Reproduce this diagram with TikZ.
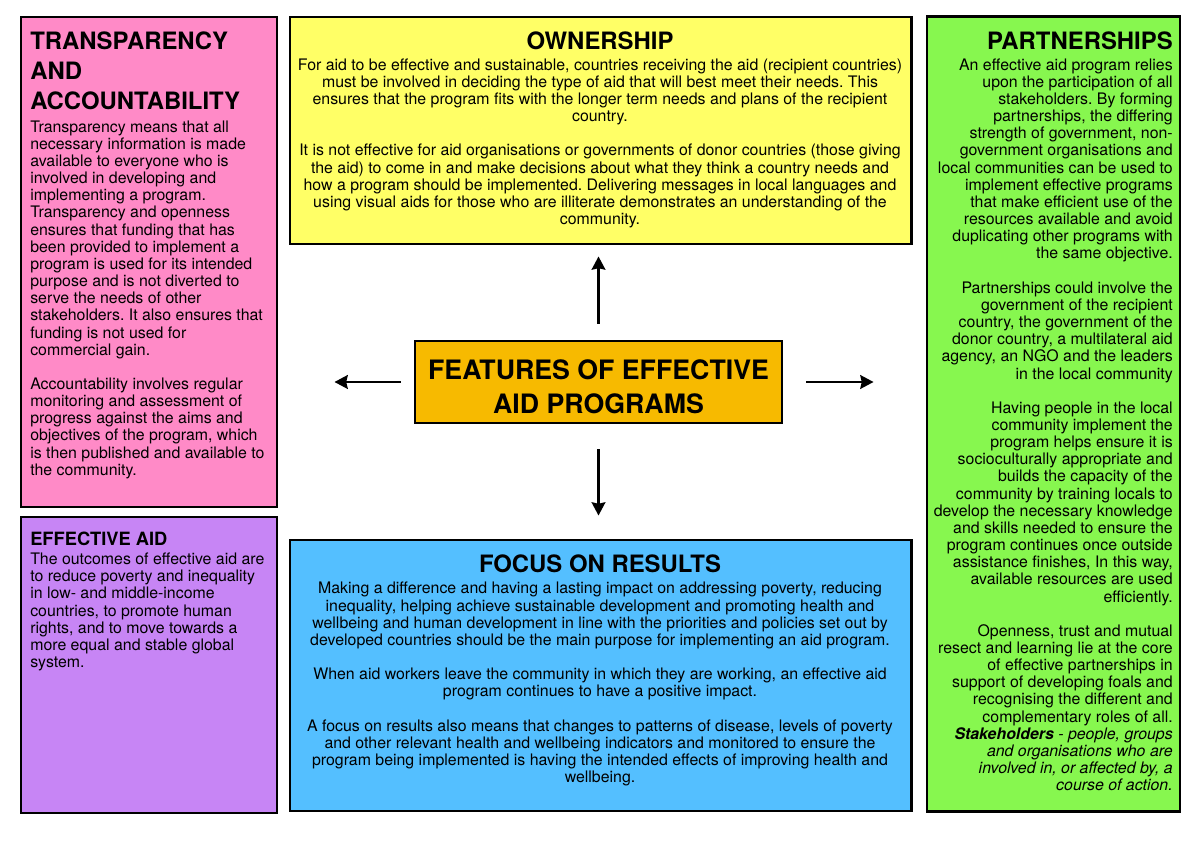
\documentclass[tikz,border=0pt]{standalone}
\usepackage{fontspec}
\setmainfont{TeX Gyre Heros}
\usepackage{xcolor}
\usetikzlibrary{positioning,arrows.meta}
\frenchspacing
\tikzstyle{box} = [rectangle,draw,line width=2pt]
\tikzstyle{head} = [inner sep=0pt,font=\fontsize{17}{21.3}\selectfont\bfseries]
\tikzstyle{body} = [inner sep=0pt,font=\fontsize{11.3}{12.2}\selectfont]
\tikzstyle{link} = [line width=2pt,->,>={Stealth[length=0.33cm,width=0.34cm,inset=1pt]}]
\definecolor{pink}{rgb}{1.0, 0.54, 0.78}
\definecolor{violet}{rgb}{0.78, 0.52, 0.96}
\definecolor{yellow}{rgb}{1.0, 1.0, 0.40}
\definecolor{blue}{rgb}{0.33, 0.75, 1.0}
\definecolor{green}{rgb}{0.53, 0.97, 0.31}
\definecolor{orange}{rgb}{0.97, 0.73, 0.0}

\begin{document}
\begin{tikzpicture}[x=0.025cm,y=0.025cm]
      \useasboundingbox (0,0) rectangle (1200,848);
      % boxes
      \node (transp) [box,fill=pink,minimum width=6.4cm,minimum height=12.25cm] at (149,586) {};
      \node (effaid) [box,fill=violet,minimum width=6.4cm,minimum height=7.4cm] at (149,183) {};
      \node (owner) [box,fill=yellow,minimum width=15.525cm,minimum height=5.675cm] at (600.5,717.5) {};
      \node (results) [box,fill=blue,minimum width=15.525cm,minimum height=6.775cm] at (600.5,172.5) {};
      \node (partner) [box,fill=green,minimum width=6.325cm,minimum height=19.85cm] at (1053.5,434) {};
      \node (features) [box,fill=orange,minimum width=9.175cm,minimum height=2.05cm,align=center,
            font=\fontsize{19}{24}\selectfont\bfseries] at (598.5,466) {\rule{0pt}{21pt}FEATURES OF EFFECTIVE\\AID PROGRAMS};
      % texts
      \node (transptitle) [head,anchor=north west,align=left] at (30,816) {TRANSPARENCY\\AND\\ACCOUNTABILITY};
      \node (transptext) [body,align=left,below right=7pt and 0pt of transptitle.south west] {Transparency means that all\\
necessary information is made\\
available to everyone who is\\
involved in developing and\\
implementing a program.\\
Transparency and openness\\
ensures that funding that has\\
been provided to implement a\\
program is used for its intended\\
purpose and is not diverted to\\
serve the needs of other\\
stakeholders. It also ensures that\\
funding is not used for\\
commercial gain.\\[12.2pt]
Accountability involves regular\\
monitoring and assessment of\\
progress against the aims and\\
objectives of the program, which\\
is then published and available to\\
the community.};
      \node (effaidtitle) [head,anchor=north west,font=\fontsize{13}{15}\selectfont\bfseries] at (30,316) {EFFECTIVE AID};
      \node (effaidtext) [body,align=left,below right=4.5pt and 0pt of effaidtitle.south west] {The outcomes of effective aid are\\
to reduce poverty and inequality\\
in low- and middle-income\\
countries, to promote human\\
rights, and to move towards a\\
more equal and stable global\\
system.};
      \node (ownertitle) [head,anchor=north] at (600,816) {OWNERSHIP};
      \node (ownertext) [body,align=center,below=5.5pt of ownertitle] {For aid to be effective and sustainable, countries receiving the aid (recipient countries)\\
must be involved in deciding the type of aid that will best meet their needs. This\\
ensures that the program fits with the longer term needs and plans of the recipient\\
country.\\[12.2pt]
It is not effective for aid organisations or governments of donor countries (those giving\\
the aid) to come in and make decisions about what they think a country needs and\\
how a program should be implemented. Delivering messages in local languages and\\
using visual aids for those who are illiterate demonstrates an understanding of the\\
community.};
      \node (resultstitle) [head,anchor=north] at (600,293) {FOCUS ON RESULTS};
      \node (resultstext) [body,align=center,below=6pt of resultstitle] {Making a difference and having a lasting impact on addressing poverty, reducing\\
inequality, helping achieve sustainable development and promoting health and\\
wellbeing and human development in line with the priorities and policies set out by\\
developed countries should be the main purpose for implementing an aid program.\\[12.2pt]
When aid workers leave the community in which they are working, an effective aid\\
program continues to have a positive impact.\\[12.2pt]
A focus on results also means that changes to patterns of disease, levels of poverty\\
and other relevant health and wellbeing indicators and monitored to ensure the\\
program being implemented is having the intended effects of improving health and\\
wellbeing.};
      \node (partnertitle) [head,anchor=north east] at (1173,816) {PARTNERSHIPS};
      \node (partnertext) [body,align=right,below left=5.5pt and 0pt of partnertitle.south east] {An effective aid program relies\\
upon the participation of all\\
stakeholders. By forming\\
partnerships, the differing\\
strength of government, non-\\
government organisations and\\
local communities can be used to\\
implement effective programs\\
that make efficient use of the\\
resources available and avoid\\
duplicating other programs with\\
the same objective.\\[12.2pt]
Partnerships could involve the\\
government of the recipient\\
country, the government of the\\
donor country, a multilateral aid\\
agency, an NGO and the leaders\\
in the local community\\[12.2pt]
Having people in the local\\
community implement the\\
program helps ensure it is\\
socioculturally appropriate and\\
builds the capacity of the\\
community by training locals to\\
develop the necessary knowledge\\
and skills needed to ensure the\\
program continues once outside\\
assistance finishes, In this way,\\
available resources are used\\
efficiently.\\[12.2pt]
Openness, trust and mutual\\
resect and learning lie at the core\\
of effective partnerships in\\
support of developing foals and\\
recognising the different and\\
complementary roles of all.\\
\textbf{\textit{Stakeholders}} \textit{- people, groups}\\
\textit{and organisations who are}\\
\textit{involved in, or affected by, a}\\
\textit{course of action.}};
      % arrows
      \draw [link,shorten <=0.4cm,shorten >=0.275cm] (features.north) -- (features.north |- owner.south);
      \draw [link,shorten <=0.625cm,shorten >=0.575cm] (features.south) -- (features.south |- results.north);
      \draw [link,shorten <=0.325cm,shorten >=1.4cm] (features.west) -- (features.west -| transp.east);
      \draw [link,shorten <=0.575cm,shorten >=1.3cm] (features.east) -- (features.east -| partner.west);
\end{tikzpicture}
\end{document}
